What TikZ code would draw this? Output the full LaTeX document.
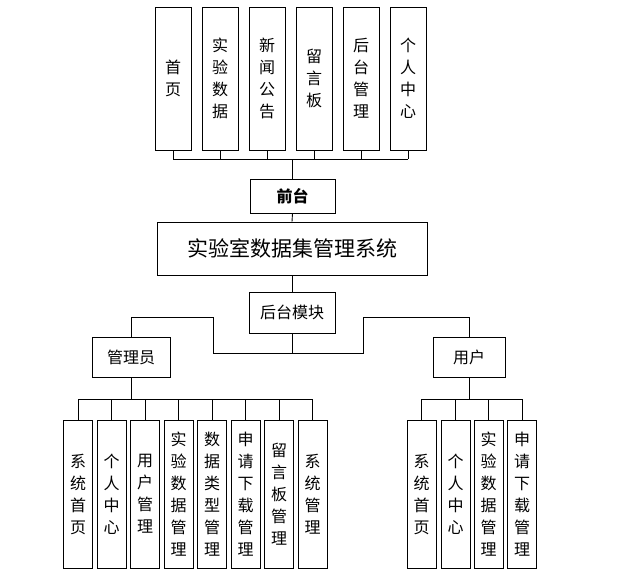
\documentclass[tikz,border=0pt]{standalone}
\usepackage{fontspec}
\newfontfamily\cjk{Noto Sans CJK SC}
\begin{document}
\begin{tikzpicture}[x=1pt,y=-1pt,
  bx/.style={draw,line width=0.9pt,inner sep=0pt,font=\cjk\fontsize{16}{22}\selectfont,align=center},
  ln/.style={line width=0.9pt}]
\useasboundingbox (0,0) rectangle (619,581);
% top boxes
\foreach \n/\x/\t in {t1/173/首\\页, t2/220/实\\验\\数\\据, t3/267/新\\闻\\公\\告, t4/314/留\\言\\板, t5/361/后\\台\\管\\理, t6/408/个\\人\\中\\心}{
  \node[bx,minimum width=36pt,minimum height=143pt] (\n) at (\x,78.5) {\t};
  \draw[ln] (\n.south) -- (\x,159);
}
\draw[ln] (173,159) -- (408,159);
\node[bx,minimum width=85pt,minimum height=34pt,font=\cjk\bfseries\fontsize{16}{18}\selectfont] (qt) at (292.5,196) {前台};
\coordinate (bt) at (292.5,159);
\draw[line width=1.5pt] (bt) -- (qt.north);
\node[bx,minimum width=270pt,minimum height=53pt,font=\cjk\fontsize{21}{24}\selectfont] (main) at (292,248.5) {实验室数据集管理系统};
\draw[ln] (qt.south) -- (main.north);
\node[bx,minimum width=86pt,minimum height=41pt] (ht) at (292,312.5) {后台模块};
\draw[ln] (main.south) -- (ht.north);
\node[bx,minimum width=78pt,minimum height=40pt] (gl) at (131,357) {管理员};
\node[bx,minimum width=72pt,minimum height=40pt] (yh) at (469,357) {用户};
\draw[ln] (ht.south) -- (292,353) -- (213,353) -- (213,317) -- (131,317) -- (gl.north);
\draw[ln] (292,353) -- (363,353) -- (363,317) -- (469,317) -- (yh.north);
% admin children
\draw[ln] (gl.south) -- (131,399);
\draw[ln] (78,399) -- (313,399);
\foreach \n/\x/\t in {a1/78/系\\统\\首\\页, a2/111.5/个\\人\\中\\心, a3/145/用\\户\\管\\理, a4/178.5/实\\验\\数\\据\\管\\理, a5/212/数\\据\\类\\型\\管\\理, a6/245.5/申\\请\\下\\载\\管\\理, a7/279/留\\言\\板\\管\\理, a8/312.5/系\\统\\管\\理}{
  \node[bx,minimum width=29pt,minimum height=148pt] (\n) at (\x,494) {\t};
  \draw[ln] (\x,399) -- (\n.north);
}
% user children
\draw[ln] (yh.south) -- (469,399);
\draw[ln] (421.5,399) -- (522,399);
\foreach \n/\x/\t in {u1/421.5/系\\统\\首\\页, u2/455.5/个\\人\\中\\心, u3/488.5/实\\验\\数\\据\\管\\理, u4/522/申\\请\\下\\载\\管\\理}{
  \node[bx,minimum width=29pt,minimum height=148pt] (\n) at (\x,494) {\t};
  \draw[ln] (\x,399) -- (\n.north);
}
\end{tikzpicture}
\end{document}
